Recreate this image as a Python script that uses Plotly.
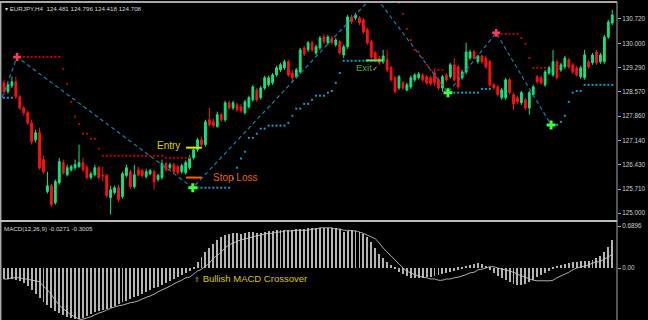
import plotly.graph_objects as go

# ---------------- data ----------------
bars = list(range(155))
opens = [128.84,128.58,128.75,128.87,128.43,128.10,127.96,127.66,127.16,127.37,
         126.58,125.64,125.81,125.31,125.90,126.49,126.13,126.28,126.34,126.37,
         126.49,126.34,126.05,126.13,126.34,126.11,126.11,125.46,125.61,125.75,
         125.49,126.11,126.22,125.78,126.28,126.25,126.08,126.16,126.22,125.99,
         126.05,126.46,126.34,126.43,126.37,126.22,126.19,126.34,126.63,126.87,
         127.16,127.02,127.75,127.69,127.55,127.90,127.75,128.25,128.10,128.19,
         128.13,127.96,128.13,128.34,128.63,128.40,128.69,128.78,128.84,129.07,
         129.22,129.28,129.46,129.13,129.02,129.16,129.87,129.81,130.02,129.72,
         129.87,130.19,130.02,130.16,129.96,130.05,129.66,129.90,130.78,130.75,
         130.75,130.69,130.40,130.05,129.72,129.57,129.46,129.52,129.28,128.99,
         128.69,128.84,128.63,128.72,128.93,128.99,129.07,129.02,128.99,129.13,
         128.93,128.69,129.07,129.02,129.37,129.31,128.99,129.16,129.57,129.75,
         129.46,129.63,129.57,129.46,128.78,128.72,128.40,128.40,128.93,128.49,
         128.40,128.25,128.34,128.10,128.49,129.02,128.99,128.78,129.13,129.07,
         129.46,129.22,129.31,129.52,129.37,129.28,129.02,128.99,129.46,129.43,
         129.75,129.46,129.46,130.19,130.60]
highs = [128.93,128.84,129.02,129.02,128.49,128.16,128.02,127.75,127.46,127.52,
         126.69,126.22,125.87,125.99,126.63,126.58,126.43,126.43,126.58,127.02,
         126.63,126.43,126.22,126.43,126.40,126.37,126.16,125.81,125.81,125.84,
         126.22,126.43,126.28,126.43,126.37,126.31,126.31,126.31,126.28,126.16,
         126.58,126.52,126.49,126.49,126.43,126.46,126.55,126.72,126.96,127.22,
         127.25,127.75,128.10,127.78,127.99,127.96,128.31,128.31,128.31,128.25,
         128.22,128.34,128.46,128.78,128.69,128.75,129.05,129.05,129.13,129.34,
         129.43,129.52,129.52,129.22,129.28,129.87,129.93,130.07,130.07,129.96,
         130.22,130.28,130.25,130.22,130.16,130.10,129.96,130.84,130.84,130.90,
         130.81,130.75,130.46,130.10,129.78,129.63,129.81,129.81,129.34,129.05,
         129.07,128.90,128.84,129.05,129.13,129.16,129.13,129.07,129.05,129.19,
         128.99,129.07,129.13,129.43,129.57,129.37,129.22,130.02,129.81,129.81,
         129.66,129.66,129.63,129.52,128.84,128.78,128.69,128.99,128.99,128.55,
         128.46,128.60,128.40,128.60,128.78,129.07,129.05,129.22,129.34,129.81,
         129.52,129.43,129.63,129.57,129.43,129.34,129.34,129.81,129.52,129.72,
         129.81,129.72,130.25,130.69,130.99]
lows = [128.49,128.52,128.69,128.37,128.04,127.87,127.60,127.02,127.08,126.28,
        126.16,125.58,125.19,125.25,125.84,126.13,126.08,126.22,126.28,126.34,
        126.22,125.99,125.99,126.08,125.99,125.93,125.46,124.96,125.55,125.34,
        125.43,126.05,125.72,125.72,126.08,126.05,126.02,126.11,125.69,125.93,
        125.99,126.22,126.28,126.16,126.13,126.16,126.13,126.28,126.58,126.81,
        126.96,126.96,127.55,127.52,127.52,127.69,127.69,128.04,128.04,127.99,
        127.96,127.90,128.08,128.28,128.28,128.34,128.63,128.72,128.78,129.02,
        129.16,129.22,129.02,128.84,128.96,129.10,129.63,129.75,129.75,129.66,
        129.81,129.99,129.96,129.96,129.90,129.66,129.57,129.84,130.57,130.69,
        130.54,130.28,129.96,129.55,129.46,129.37,129.40,129.16,128.87,128.52,
        128.63,128.63,128.58,128.66,128.87,128.93,128.87,128.78,128.75,128.75,
        128.63,128.58,128.87,128.96,128.87,128.66,128.93,129.10,129.52,129.52,
        129.40,129.40,129.25,128.72,128.63,128.43,128.34,128.34,128.49,128.04,
        128.22,128.19,128.04,127.90,128.43,128.81,128.78,128.72,129.07,129.02,
        128.93,129.16,129.25,129.25,129.10,129.02,128.96,128.93,129.25,129.37,
        129.37,129.40,129.40,130.13,130.54]
closes = [128.58,128.78,128.87,128.43,128.10,127.96,127.66,127.11,127.37,126.34,
          126.22,125.81,125.25,125.93,126.52,126.19,126.34,126.37,126.43,126.49,
          126.28,126.05,126.16,126.34,126.05,126.10,125.52,125.69,125.75,125.40,
          126.16,126.34,125.78,126.13,126.13,126.11,126.22,126.25,125.93,126.11,
          126.46,126.28,126.43,126.22,126.19,126.40,126.49,126.63,126.87,127.16,
          127.02,127.69,127.60,127.58,127.90,127.75,128.25,128.10,128.25,128.04,
          128.02,128.28,128.40,128.72,128.34,128.69,128.99,128.99,129.07,129.28,
          129.37,129.46,129.07,128.99,129.22,129.81,129.69,130.02,129.81,129.90,
          130.16,130.05,130.19,130.02,130.10,129.72,129.90,130.78,130.63,130.84,
          130.60,130.34,130.02,129.60,129.52,129.43,129.63,129.22,128.93,128.58,
          129.02,128.69,128.78,128.99,129.07,129.10,128.93,128.84,128.81,128.84,
          128.69,129.02,128.93,129.37,128.93,128.72,129.16,129.75,129.75,129.57,
          129.63,129.46,129.31,128.78,128.69,128.49,128.63,128.93,128.55,128.22,
          128.28,128.55,128.10,128.55,128.72,128.87,128.84,129.16,129.28,129.46,
          128.99,129.37,129.57,129.31,129.16,129.07,129.28,129.66,129.31,129.66,
          129.43,129.66,130.19,130.63,130.84]

# trailing-stop dots (bar index, price)
red_stop_bar = [4,5,6,7,8,9,10,11,12,13,14,15,16,17,18,19,20,21,22,23,24,
                25,26,27,28,29,30,31,32,33,34,35,36,37,38,39,40,
                41,42,43,44,45,46,47,
                100,101,102,103,104,105,106,107,108,109,110,111,
                125,126,127,128,129,130,131,132,133,134,135,136,137]
red_stop_val = [129.60,129.60,129.60,129.60,129.60,129.60,129.60,129.60,129.60,129.60,129.60,
                129.25,128.81,128.28,127.84,127.63,127.34,127.34,127.19,127.19,126.90,
                126.69,126.69,126.69,126.69,126.69,126.69,126.69,126.69,126.69,126.69,
                126.69,126.69,126.69,126.69,126.69,126.69,
                126.63,126.63,126.63,126.63,126.63,126.63,126.63,
                131.20,130.87,130.43,130.10,129.81,129.75,129.57,129.37,129.22,129.22,129.22,129.22,
                130.28,130.28,130.28,130.28,130.28,130.28,130.16,129.99,129.57,129.28,129.28,129.28,129.28]
blue_stop_bar = [0,1,2,
                 48,49,50,51,52,53,54,55,56,57,58,59,60,61,62,63,64,65,66,
                 67,68,69,70,71,72,73,74,75,76,77,78,79,80,81,82,83,84,85,
                 86,87,88,89,90,91,92,93,94,95,96,
                 113,114,115,116,117,118,119,120,121,122,123,
                 139,140,141,142,143,144,145,146,147,148,149,150,151,152,153,154]
blue_stop_val = [128.40,128.40,128.40,
                 125.75,125.75,125.75,125.75,125.75,125.75,125.75,125.75,125.75,125.75,
                 126.02,126.34,126.61,126.81,127.22,127.22,127.34,127.49,127.49,
                 127.58,127.58,127.58,127.58,127.58,127.66,127.87,128.08,128.08,128.22,
                 128.22,128.34,128.46,128.46,128.46,128.55,128.60,128.84,129.13,
                 129.49,129.49,129.49,129.49,129.49,129.49,129.49,129.49,129.49,129.49,129.49,
                 128.55,128.55,128.55,128.55,128.55,128.55,128.55,128.55,128.66,128.66,128.66,
                 127.60,127.60,127.69,127.87,128.28,128.55,128.60,128.60,
                 128.78,128.78,128.78,128.78,128.78,128.78,128.78,128.78]

# zigzag swing points
zz_bar = [-0.5, 3.3, 47.8, 93.7, 112.4, 124.6, 138.5]
zz_val = [128.40, 129.60, 125.75, 131.43, 128.55, 130.31, 127.60]
high_star_bar = [3.3, 124.6]
high_star_val = [129.60, 130.31]
low_star_bar = [47.8, 112.4, 138.5]
low_star_val = [125.75, 128.55, 127.60]

# MACD
macd_hist = [-0.18,-0.18,-0.18,-0.20,-0.21,-0.25,-0.30,-0.36,-0.43,-0.49,
             -0.56,-0.61,-0.66,-0.71,-0.74,-0.77,-0.80,-0.82,-0.84,-0.84,
             -0.82,-0.79,-0.76,-0.72,-0.71,-0.69,-0.67,-0.66,-0.62,-0.59,
             -0.56,-0.54,-0.51,-0.48,-0.46,-0.43,-0.39,-0.36,-0.33,-0.31,
             -0.28,-0.25,-0.21,-0.18,-0.15,-0.11,-0.08,-0.05,-0.01,0.10,
             0.18,0.26,0.33,0.39,0.46,0.51,0.54,0.56,0.57,0.57,
             0.56,0.57,0.59,0.59,0.57,0.57,0.59,0.61,0.61,0.62,
             0.62,0.62,0.62,0.62,0.64,0.64,0.64,0.66,0.66,0.66,
             0.66,0.66,0.66,0.66,0.66,0.64,0.59,0.61,0.62,0.61,
             0.59,0.56,0.51,0.43,0.33,0.23,0.16,0.10,0.05,-0.01,
             -0.07,-0.10,-0.13,-0.16,-0.16,-0.16,-0.16,-0.15,-0.15,-0.13,
             -0.11,-0.10,-0.08,-0.07,-0.05,-0.03,-0.02,0.03,0.05,0.07,
             0.08,0.07,0.03,-0.03,-0.08,-0.13,-0.16,-0.20,-0.23,-0.26,
             -0.28,-0.28,-0.26,-0.23,-0.20,-0.15,-0.11,-0.08,-0.05,-0.01,
             0.03,0.05,0.07,0.08,0.10,0.10,0.11,0.11,0.11,0.13,
             0.16,0.20,0.26,0.34,0.46]
macd_signal = [-0.18,-0.18,-0.16,-0.16,-0.16,-0.18,-0.18,-0.20,-0.21,-0.23,
               -0.30,-0.36,-0.44,-0.53,-0.61,-0.67,-0.72,-0.77,-0.80,-0.84,
               -0.84,-0.82,-0.80,-0.77,-0.74,-0.72,-0.69,-0.66,-0.64,-0.62,
               -0.61,-0.59,-0.57,-0.56,-0.54,-0.51,-0.48,-0.46,-0.43,-0.39,
               -0.36,-0.33,-0.30,-0.26,-0.23,-0.20,-0.16,-0.15,-0.10,-0.05,
               -0.02,0.03,0.08,0.16,0.21,0.26,0.33,0.38,0.41,0.44,
               0.46,0.48,0.49,0.51,0.53,0.54,0.56,0.57,0.57,0.59,
               0.59,0.61,0.61,0.61,0.62,0.62,0.62,0.62,0.64,0.64,
               0.66,0.66,0.66,0.66,0.64,0.64,0.62,0.62,0.61,0.61,
               0.59,0.57,0.54,0.51,0.48,0.41,0.33,0.26,0.20,0.13,
               0.07,0.00,-0.05,-0.08,-0.11,-0.13,-0.15,-0.16,-0.18,-0.18,
               -0.20,-0.20,-0.18,-0.18,-0.16,-0.15,-0.13,-0.11,-0.08,-0.07,
               -0.03,-0.02,0.00,0.02,0.02,0.00,-0.02,-0.03,-0.05,-0.07,
               -0.10,-0.13,-0.15,-0.18,-0.20,-0.21,-0.21,-0.21,-0.21,-0.20,
               -0.16,-0.13,-0.10,-0.07,-0.03,0.00,0.02,0.03,0.05,0.08,
               0.10,0.11,0.15,0.18,0.23]

price_tick_vals = [130.72, 130.00, 129.29, 128.57, 127.86, 127.14, 126.43, 125.71, 125.00]
price_tick_text = ["130.720", "130.000", "129.290", "128.570", "127.860",
                   "127.140", "126.430", "125.710", "125.000"]
macd_tick_vals = [0.6896, 0.0]
macd_tick_text = ["0.6896", "0.00"]

entry_price, stop_price, exit_price = 126.93, 126.05, 129.50
trade_line_bars = [46.1, 50.1]
exit_line_bars = [91.6, 96.0]

# ---------------- figure ----------------
FONT = "Liberation Sans, Arial, sans-serif"
fig = go.Figure()

fig.add_trace(go.Scatter(x=zz_bar, y=zz_val, mode="lines",
                         line=dict(color="#1a7fae", width=1.2, dash="4px,3px"),
                         hoverinfo="skip", showlegend=False))
fig.add_trace(go.Scatter(x=red_stop_bar, y=red_stop_val, mode="markers",
                         marker=dict(symbol="square", size=2, color="#c40000"),
                         showlegend=False))
fig.add_trace(go.Scatter(x=blue_stop_bar, y=blue_stop_val, mode="markers",
                         marker=dict(symbol="square", size=2, color="#1797cc"),
                         showlegend=False))

fig.add_trace(go.Candlestick(
    x=bars, open=opens, high=highs, low=lows, close=closes,
    increasing=dict(line=dict(color="#12e382", width=1), fillcolor="#12e382"),
    decreasing=dict(line=dict(color="#ff1010", width=1), fillcolor="#ff1010"),
    whiskerwidth=0, showlegend=False))

fig.add_trace(go.Scatter(x=high_star_bar, y=high_star_val, mode="markers",
                         marker=dict(symbol="cross", size=6.5, color="#ff3a55",
                                     line=dict(width=0)), showlegend=False))
fig.add_trace(go.Scatter(x=low_star_bar, y=low_star_val, mode="markers",
                         marker=dict(symbol="cross", size=7.5, color="#3dff3d",
                                     line=dict(width=0)), showlegend=False))

# MACD panel
fig.add_trace(go.Bar(x=bars, y=macd_hist, yaxis="y2", width=0.24,
                     marker=dict(color="#b4b4b4", line=dict(width=0)),
                     showlegend=False))
fig.add_trace(go.Scatter(x=bars, y=macd_signal, yaxis="y2", mode="lines",
                         line=dict(color="#c4c4c4", width=0.9, shape="spline"),
                         showlegend=False))

shapes = [
    dict(type="line", xref="x", yref="y", x0=trade_line_bars[0], x1=trade_line_bars[1],
         y0=entry_price, y1=entry_price, line=dict(color="#e8e400", width=2)),
    dict(type="line", xref="x", yref="y", x0=trade_line_bars[0], x1=trade_line_bars[1],
         y0=stop_price, y1=stop_price, line=dict(color="#ff5a00", width=2)),
    dict(type="line", xref="x", yref="y", x0=exit_line_bars[0], x1=exit_line_bars[1],
         y0=exit_price, y1=exit_price, line=dict(color="#5ce64a", width=2)),
    # frame
    dict(type="line", xref="paper", yref="paper", x0=-0.004, x1=1.0, y0=1.0, y1=1.0,
         line=dict(color="#a8a8a8", width=2)),
    dict(type="line", xref="paper", yref="paper", x0=-0.0025, x1=-0.0025, y0=0, y1=1.0,
         line=dict(color="#a8a8a8", width=2)),
    dict(type="line", xref="paper", yref="paper", x0=-0.004, x1=1.0, y0=0.3115, y1=0.3115,
         line=dict(color="#bdbdbd", width=2)),
    dict(type="line", xref="paper", yref="paper", x0=1.0, x1=1.0, y0=0, y1=1.0,
         line=dict(color="#a8a8a8", width=1)),
]

annotations = [
    dict(x=0, y=1.0, xref="paper", yref="paper", xanchor="left", yanchor="top",
         text="▾ EURJPY,H4  124.481 124.796 124.418 124.708", showarrow=False,
         font=dict(family=FONT, size=6.2, color="#d6d6d6"), xshift=1, yshift=-1),
    dict(x=0, y=0.308, xref="paper", yref="paper", xanchor="left", yanchor="top",
         text="MACD(12,26,9) -0.0271 -0.3005", showarrow=False,
         font=dict(family=FONT, size=6.2, color="#d6d6d6"), xshift=0, yshift=-1),
    dict(x=45.1, y=126.99, xref="x", yref="y", xanchor="right", yanchor="middle",
         text="Entry", showarrow=False, font=dict(family=FONT, size=10, color="#dcd400")),
    dict(x=52.4, y=126.05, xref="x", yref="y", xanchor="left", yanchor="middle",
         text="Stop Loss", showarrow=False, font=dict(family=FONT, size=10, color="#e8640e")),
    dict(x=88.6, y=129.28, xref="x", yref="y", xanchor="left", yanchor="middle",
         text="Exit<span style='color:#d8c400;font-size:7px'>✓</span>", showarrow=False,
         font=dict(family=FONT, size=9.5, color="#4aaa34")),
    dict(x=47.6, y=-0.165, xref="x", yref="y2", xanchor="left", yanchor="middle",
         text="<span style='font-size:7px'>⇧</span> Bullish MACD Crossover", showarrow=False,
         font=dict(family=FONT, size=9.5, color="#dcc800")),
]

fig.update_layout(
    width=648, height=320,
    margin=dict(l=2, r=31, t=2, b=0),
    paper_bgcolor="#000000", plot_bgcolor="#000000",
    showlegend=False, bargap=0, boxgap=0.35,
    xaxis=dict(range=[-0.506, 155.2], visible=False, rangeslider=dict(visible=False),
               fixedrange=True),
    yaxis=dict(domain=[0.3145, 1.0], range=[124.80, 131.22], side="right",
               tickvals=price_tick_vals, ticktext=price_tick_text,
               showgrid=False, zeroline=False, ticks="outside", ticklen=3,
               tickcolor="#a8a8a8", tickfont=dict(family=FONT, size=6.3, color="#d0d0d0")),
    yaxis2=dict(domain=[0.0, 0.308], range=[-0.854, 0.755], side="right", anchor="x",
                tickvals=macd_tick_vals, ticktext=macd_tick_text,
                showgrid=False, zeroline=False, ticks="outside", ticklen=3,
                tickcolor="#a8a8a8", tickfont=dict(family=FONT, size=6.3, color="#d0d0d0")),
    shapes=shapes, annotations=annotations,
)

fig.write_html("out.html")
